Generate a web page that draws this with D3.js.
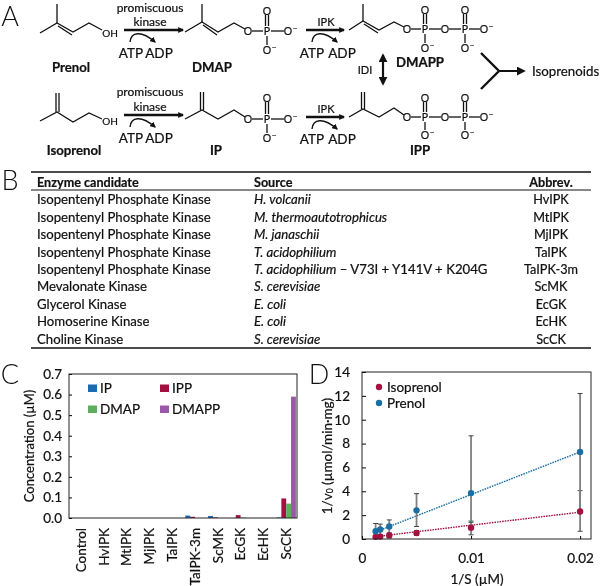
<!DOCTYPE html>
<html><head><meta charset="utf-8">
<script src="https://cdn.jsdelivr.net/npm/d3@7"></script>
<style>
html,body{margin:0;padding:0;background:#fff}
svg{display:block;filter:blur(0.35px)}
text{font-family:Lato,"Open Sans",sans-serif;fill:#111;stroke:#111;stroke-width:0.22px}
text.light{stroke:none}
</style></head><body>
<svg id="c" width="600" height="586"></svg>
<script>
// Panel C data
const categories=["Control","HvIPK","MtIPK","MjIPK","TaIPK","TaIPK-3m","ScMK","EcGK","EcHK","ScCK"];
const seriesNames=["IP","IPP","DMAP","DMAPP"];
const ipValues=[0,0,0,0,0,0.012,0.01,0,0,0.003];
const ippValues=[0,0,0,0,0,0.006,0.003,0.014,0,0.095];
const dmapValues=[0,0,0,0,0,0,0,0.002,0,0.07];
const dmappValues=[0,0,0,0,0,0,0,0,0,0.59];
const barColors=["#1c6bb0","#a3103f","#5fae5f","#9c58a8"];
const cTicks=[0,0.1,0.2,0.3,0.4,0.5,0.6,0.7];
// Panel D data
const substrateInv=[0.00125,0.00167,0.0025,0.005,0.01,0.02];
const prenolY=[0.65,0.8,1.05,2.4,3.85,7.3];
const prenolHi=[1.3,1.25,1.6,3.8,8.65,12.2];
const prenolLo=[0.1,0.3,0.5,1.05,1.4,2.4];
const isoprenolY=[0.18,0.2,0.3,0.5,0.95,2.3];
const isoprenolHi=[0.3,0.35,0.5,0.7,1.5,4.05];
const isoprenolLo=[0.08,0.08,0.1,0.3,0.35,0.65];
const prenolFit=[[0.00125,0.6],[0.02,7.3]];
const isoprenolFit=[[0.00125,0.2],[0.02,2.25]];
const dYTicks=[0,2,4,6,8,10,12,14];
const dXTicks=[0,0.01,0.02];
// Panel B data
const tableHead=["Enzyme candidate","Source","Abbrev."];
const enzymes=["Isopentenyl Phosphate Kinase","Isopentenyl Phosphate Kinase","Isopentenyl Phosphate Kinase","Isopentenyl Phosphate Kinase","Isopentenyl Phosphate Kinase","Mevalonate Kinase","Glycerol Kinase","Homoserine Kinase","Choline Kinase"];
const sources=["H. volcanii","M. thermoautotrophicus","M. janaschii","T. acidophilium","T. acidophilium","S. cerevisiae","E. coli","E. coli","S. cerevisiae"];
const sourceNotes=["","","",""," – V73I + Y141V + K204G","","","",""];
const abbrevs=["HvIPK","MtIPK","MjIPK","TaIPK","TaIPK-3m","ScMK","EcGK","EcHK","ScCK"];

const svg=d3.select("#c");
const defs=svg.append("defs");
defs.append("marker").attr("id","ah").attr("viewBox","0 0 10 10").attr("refX",8).attr("refY",5)
 .attr("markerWidth",6).attr("markerHeight",6).attr("markerUnits","userSpaceOnUse").attr("orient","auto-start-reverse")
 .append("path").attr("d","M0,0L10,5L0,10Z").attr("fill","#111");
defs.append("marker").attr("id","ahb").attr("viewBox","0 0 10 10").attr("refX",8).attr("refY",5)
 .attr("markerWidth",9).attr("markerHeight",9).attr("markerUnits","userSpaceOnUse").attr("orient","auto-start-reverse")
 .append("path").attr("d","M0,0L10,5L0,10Z").attr("fill","#111");

function label(g,x,y,s,size,opt={}){
 return g.append("text").attr("x",x).attr("y",y).attr("text-anchor",opt.anchor||"middle")
  .attr("dominant-baseline","central").attr("font-size",size).attr("font-weight",opt.weight||400)
  .attr("font-style",opt.style||"normal").attr("class",opt.cls||null).text(s);
}
function line(g,pts,w=1.3,extra={}){
 const p=g.append("path").attr("d",d3.line()(pts)).attr("fill","none").attr("stroke","#111").attr("stroke-width",w);
 Object.entries(extra).forEach(([k,v])=>p.attr(k,v));
 return p;
}
// ---------- Panel letters
[["A",10,15],["B",10,179],["C",10,373],["D",319,373]].forEach(d=>label(svg,d[1],d[2],d[0],27,{weight:300,cls:"light"}));

// ---------- Panel A
const A=svg.append("g");
function arrowSet(x0,x1,y,ax,adp,ty,tAtp,tAdp){
 line(A,[[x0,y],[x1,y]],2.4,{"marker-end":"url(#ah)"});
 A.append("path").attr("fill","none").attr("stroke","#111").attr("stroke-width",1.4).attr("marker-end","url(#ah)")
  .attr("d",`M${ax},${y+12}C${ax+1},${y+2} ${adp-14},${y} ${adp},${y+12}`);
 label(A,tAtp,ty,"ATP",13.5);label(A,tAdp,ty,"ADP",13.5);
}
const PF=10.5;
function phosphate(cx,y,top,bot){
 line(A,[[cx-1.5,top+4],[cx-1.5,y-5]]);line(A,[[cx+1.5,top+4],[cx+1.5,y-5]]);
 line(A,[[cx,y+5],[cx,bot-5]]);
 label(A,cx,top,"O",PF);label(A,cx,y,"P",PF);label(A,cx,bot,"O",PF);
 label(A,cx+7,bot-3,"−",8);
}
function pchain(y,top,bot,o0,ps,last){
 label(A,o0,y,"O",PF);
 let prev=o0;
 ps.forEach((p,i)=>{
  line(A,[[prev+4,y],[p-4,y]]);
  phosphate(p,y,top,bot);
  if(i<ps.length-1){const m=(p+ps[i+1])/2;label(A,m,y,"O",PF);line(A,[[p+4,y],[m-4,y]]);prev=m;}
 });
 const lp=ps[ps.length-1];
 line(A,[[lp+4,y],[last-4,y]]);label(A,last,y,"O",PF);label(A,last+7,y-3,"−",8);
}
// Prenol
line(A,[[40,33],[57,23],[73,32],[89,23],[102,30]]);line(A,[[57,23],[57,4]]);line(A,[[58,26],[72,35]]);
label(A,110,33,"OH",10);
// Isoprenol
line(A,[[40,121],[57,112],[73,122],[89,113],[102,119]]);line(A,[[56,112],[56,93]]);line(A,[[59,112],[59,93]]);
label(A,110,121,"OH",10);
// promiscuous kinase rows
[[7,21,30,53],[91,106,115,138]].forEach(r=>{
 label(A,150,r[0],"promiscuous",12);label(A,150,r[1],"kinase",12);
 arrowSet(124,183,r[2],130,155,r[3],131,159);
});
// DMAP
line(A,[[185,32],[202,22],[218,32],[234,23],[245,29]]);line(A,[[202,22],[202,4]]);line(A,[[203,25],[217,35]]);
pchain(31,11,50,248,[267],288);
// IP
line(A,[[185,119],[202,110],[218,119],[234,110],[245,117]]);line(A,[[200.5,110],[200.5,92]]);line(A,[[203.5,110],[203.5,92]]);
pchain(119,98,138,248,[267],288);
// IPK arrows
[[21,30,53],[108,117,139]].forEach(r=>{
 label(A,326,r[0],"IPK",11);
 arrowSet(306,344,r[1],312,337,r[2],312,342);
});
// DMAPP
line(A,[[349,30],[363,21],[379,30],[394,22],[404,27]]);line(A,[[363,21],[363,4]]);line(A,[[364,24],[378,33]]);
pchain(29,10,48,407,[425,465],484);
// IPP
line(A,[[349,117],[363,109],[379,117],[394,108],[404,115]]);line(A,[[361.5,109],[361.5,92]]);line(A,[[364.5,109],[364.5,92]]);
pchain(117,98,135,407,[425,465],484);
// IDI
line(A,[[383,55],[383,84]],2.2,{"marker-start":"url(#ahb)","marker-end":"url(#ahb)"});
label(A,365,69,"IDI",11);
// Merge
line(A,[[481,53],[499,71],[481,89]],2.4);
line(A,[[499,71],[524,71]],2,{"marker-end":"url(#ahb)"});
label(A,532,71,"Isoprenoids",13.3,{anchor:"start"});
// Bold names
[[71,67,"Prenol"],[212,67,"DMAP"],[420,62,"DMAPP"],[74,150,"Isoprenol"],[216,150,"IP"],[420,150,"IPP"]]
 .forEach(d=>label(A,d[0],d[1],d[2],13.2,{weight:700}));

// ---------- Panel B
const B=svg.append("g");
const colX=[37,254,551];
const rowY=d3.scaleBand().domain(abbrevs).range([191,348]);
line(B,[[31,172],[591,172]],1.6);line(B,[[31,190],[591,190]],1);line(B,[[31,348],[591,348]],1.6);
label(B,colX[0],182,tableHead[0],12.6,{anchor:"start",weight:700});
label(B,colX[1],182,tableHead[1],12.6,{anchor:"start",weight:700});
label(B,colX[2],182,tableHead[2],12.6,{weight:700});
abbrevs.forEach((a,i)=>{
 const y=rowY(a)+rowY.bandwidth()/2-0.5;
 label(B,colX[0],y,enzymes[i],13.2,{anchor:"start"});
 const t=label(B,colX[1],y,sources[i],13.2,{anchor:"start",style:"italic"});
 if(sourceNotes[i])t.append("tspan").attr("font-style","normal").text(sourceNotes[i]);
 label(B,colX[2],y,a,12.7);
});

// ---------- Panel C
const C=svg.append("g");
const cx=d3.scaleBand().domain(categories).range([69.6,297.6]).paddingInner(0.15).paddingOuter(0.075);
const cy=d3.scaleLinear().domain([0,0.7]).range([518,374]);
const cs=d3.scaleBand().domain(seriesNames).range([0,cx.bandwidth()]);
[ipValues,ippValues,dmapValues,dmappValues].forEach((vals,si)=>{
 C.selectAll(null).data(vals.map((v,i)=>({v,c:categories[i]}))).join("rect")
  .attr("x",d=>cx(d.c)+cs(seriesNames[si])).attr("width",cs.bandwidth())
  .attr("y",d=>cy(d.v)).attr("height",d=>cy(0)-cy(d.v)).attr("fill",barColors[si]);
});
const cAxisY=C.append("g").attr("transform","translate(69,0)")
 .call(d3.axisLeft(cy).tickValues(cTicks).tickFormat(d3.format(".1f")).tickSize(-3).tickPadding(7));
cAxisY.selectAll("text").attr("font-size",13.5).style("font-family","Lato");
const cAxisX=C.append("g").attr("transform","translate(0,518)")
 .call(d3.axisBottom(cx).tickSize(0).tickPadding(0));
cAxisX.selectAll("text").attr("transform","rotate(-90)").attr("x",-10).attr("y",0).attr("dy","0.35em")
 .attr("text-anchor","end").attr("font-size",13.5).style("font-family","Lato");
C.selectAll(".domain").remove();
C.append("rect").attr("x",69).attr("y",374).attr("width",228).attr("height",144).attr("fill","none").attr("stroke","#222").attr("stroke-width",1);
C.append("text").attr("transform","translate(29,446) rotate(-90)").attr("text-anchor","middle").attr("dominant-baseline","central").attr("font-size",13).text("Concentration (µM)");
const legendPos=[[88,388],[160,388],[88,409],[160,409]];
["IP","IPP","DMAP","DMAPP"].forEach((n,i)=>{
 C.append("rect").attr("x",legendPos[i][0]).attr("y",legendPos[i][1]-3.5).attr("width",9).attr("height",7.5).attr("fill",barColors[seriesNames.indexOf(n)]);
 label(C,legendPos[i][0]+12,legendPos[i][1],n,13.5,{anchor:"start"});
});

// ---------- Panel D
const D=svg.append("g");
const dx=d3.scaleLinear().domain([0,0.021]).range([362,591]);
const dy=d3.scaleLinear().domain([0,14]).range([539,372]);
const red="#a3123f",blue="#1a6ea4";
[[isoprenolFit,red],[prenolFit,blue]].forEach(([f,c])=>{
 D.append("path").attr("d",d3.line().x(d=>dx(d[0])).y(d=>dy(d[1]))(f)).attr("fill","none").attr("stroke",c).attr("stroke-width",1.4).attr("stroke-dasharray","1.6 1");
});
function errs(lo,hi){
 substrateInv.forEach((s,i)=>{
  D.append("line").attr("x1",dx(s)).attr("x2",dx(s)).attr("y1",dy(lo[i])).attr("y2",dy(hi[i])).attr("stroke","#808080").attr("stroke-width",1.8);
  [lo[i],hi[i]].forEach(v=>D.append("line").attr("x1",dx(s)-2.5).attr("x2",dx(s)+2.5).attr("y1",dy(v)).attr("y2",dy(v)).attr("stroke","#444").attr("stroke-width",1));
 });
}
errs(isoprenolLo,isoprenolHi);errs(prenolLo,prenolHi);
function pts(vals,c){
 D.selectAll(null).data(vals.map((v,i)=>[substrateInv[i],v])).join("circle")
  .attr("cx",d=>dx(d[0])).attr("cy",d=>dy(d[1])).attr("r",3.2).attr("fill",c);
}
pts(isoprenolY,red);pts(prenolY,blue);
const dAxisY=D.append("g").attr("transform","translate(362,0)")
 .call(d3.axisLeft(dy).tickValues(dYTicks).tickSize(-4).tickPadding(12));
dAxisY.selectAll("text").attr("font-size",13.5).style("font-family","Lato");
const dAxisX=D.append("g").attr("transform","translate(0,539)")
 .call(d3.axisBottom(dx).tickValues(dXTicks).tickSize(-3).tickPadding(14).tickFormat(d=>d===0?"0":String(d)));
dAxisX.selectAll("text").attr("font-size",13.5).style("font-family","Lato");
D.selectAll(".domain").remove();
D.append("rect").attr("x",362).attr("y",372).attr("width",229).attr("height",167).attr("fill","none").attr("stroke","#222").attr("stroke-width",1);
const yl=D.append("text").attr("transform","translate(327,456) rotate(-90)").attr("text-anchor","middle").attr("dominant-baseline","central").attr("font-size",13.5);
yl.append("tspan").text("1/v");yl.append("tspan").attr("font-size",8.5).attr("dy",3).text("0");yl.append("tspan").attr("dy",-3).text(" (µmol/min·mg)");
label(D,477,579,"1/S (µM)",13.5);
[[387,"Isoprenol",red],[403,"Prenol",blue]].forEach(d=>{
 D.append("circle").attr("cx",379).attr("cy",d[0]).attr("r",3.2).attr("fill",d[2]);
 label(D,387,d[0],d[1],13.5,{anchor:"start"});
});
</script></body></html>
